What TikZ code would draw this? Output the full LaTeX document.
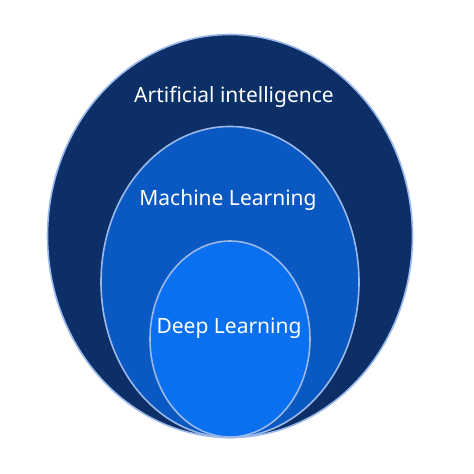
\documentclass[tikz,border=0pt]{standalone}
\usepackage{fontspec}
\setmainfont{Noto Sans}
\usetikzlibrary{shapes.geometric}

\definecolor{aiblue}{HTML}{0B2F66}
\definecolor{mlblue}{HTML}{0A59C2}
\definecolor{dlblue}{HTML}{0A70F0}
\definecolor{rimblue}{HTML}{9AB8EA}

\begin{document}
\begin{tikzpicture}[
  x=1pt,y=-1pt,
  ring/.style={ellipse,draw=rimblue,line width=1.6pt,inner sep=0pt},
  lab/.style={text=white,font=\fontsize{21}{24}\selectfont,inner sep=0pt},
]
  \useasboundingbox (0,0) rectangle (474,474);
  % ============ nested sets ============
  \node[ring,fill=aiblue,minimum width=365pt,minimum height=403pt] (ai) at (230,236) {};
  \node[ring,fill=mlblue,minimum width=258pt,minimum height=311pt] (ml) at (230,282) {};
  \node[ring,fill=dlblue,minimum width=160pt,minimum height=196pt] (dl) at (230,339) {};
  % labels
  \node[lab] (ailab) at (234,97) {Artificial intelligence};
  \node[lab] (mllab) at (228,200) {Machine Learning};
  \node[lab] (dllab) at (229,328) {Deep Learning};
\end{tikzpicture}
\end{document}
